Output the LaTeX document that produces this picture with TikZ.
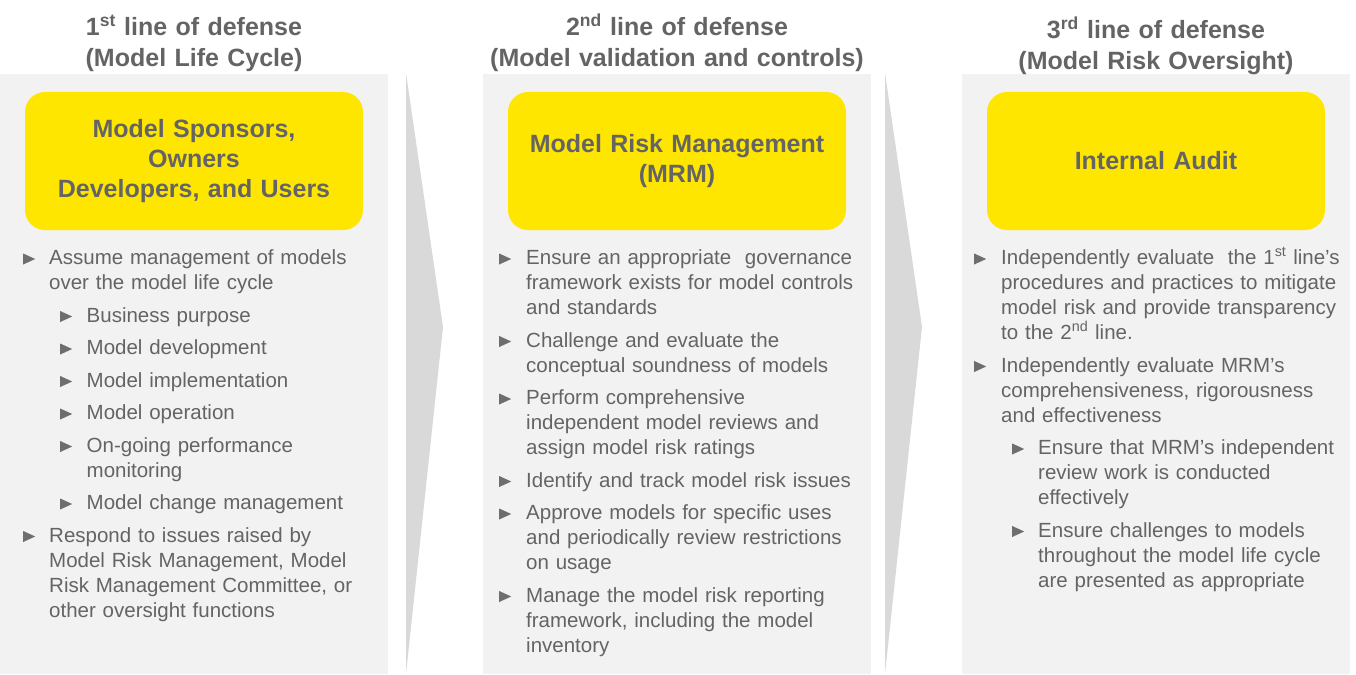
\documentclass[tikz,border=0pt]{standalone}
\usepackage{fontspec}
\setmainfont{Liberation Sans}
\definecolor{eyyellow}{RGB}{255,230,0}
\definecolor{panelgray}{RGB}{242,242,242}
\definecolor{chevgray}{RGB}{217,217,217}
\definecolor{txtgray}{RGB}{100,100,100}
\definecolor{bulgray}{RGB}{110,110,110}
\newcommand{\tri}{\tikz[baseline=0pt]\fill[bulgray] (0pt,0pt) -- (12pt,5.5pt) -- (0pt,11pt) -- cycle;}
\newenvironment{bul}[2]{\begin{list}{\tri}{\leftmargin=#1\labelwidth=#2\labelsep=0pt\itemsep=7.5pt\parsep=0pt\topsep=7.5pt\partopsep=0pt\itemindent=0pt\listparindent=0pt\def\makelabel##1{##1\hfil}}}{\end{list}}

\begin{document}
\begin{tikzpicture}[x=1pt,y=-1pt,line cap=round,line join=round,
	hdr/.style={text=txtgray,font=\fontsize{25}{31}\selectfont\bfseries,text width=400pt,align=center,anchor=base,inner sep=0pt},
	ybox/.style={fill=eyyellow,rounded corners=20pt,minimum width=338pt,minimum height=138pt,text width=330pt,inner sep=0pt,text=txtgray,font=\fontsize{25}{30}\selectfont\bfseries,align=center},
	blist/.style={text=txtgray,font=\fontsize{20.5}{25}\selectfont,text width=380pt,align=left,anchor=base west,inner sep=0pt}]
	\useasboundingbox (0,0) rectangle (1356,674);
	\fill[panelgray] (0,74) rectangle (388,674);
	\fill[panelgray] (483,74) rectangle (871,674);
	\fill[panelgray] (962,74) rectangle (1350,674);
	\fill[chevgray] (406,73) -- (443,327) -- (406,674) -- cycle;
	\fill[chevgray] (885,73) -- (922,327) -- (885,674) -- cycle;
	\node[hdr] (h1) at (194,36) {1\textsuperscript{st} line of defense\\(Model Life Cycle)};
	\node[hdr] (h2) at (677,36) {2\textsuperscript{nd} line of defense\\(Model validation and controls)};
	\node[hdr] (h3) at (1156,39) {3\textsuperscript{rd} line of defense\\(Model Risk Oversight)};
	\node[ybox] (b1) at (194,161) {Model Sponsors,\\Owners\\Developers, and Users};
	\node[ybox] (b2) at (677,161) {Model Risk Management\\(MRM)};
	\node[ybox] (b3) at (1156,161) {Internal Audit};
	\node[blist] (l1) at (23,232) {\begin{bul}{26pt}{26pt}
		\item Assume management of models\\over the model life cycle
		\begin{bul}{37.5pt}{26.5pt}
			\item Business purpose
			\item Model development
			\item Model implementation
			\item Model operation
			\item On-going performance\\monitoring
			\item Model change management
		\end{bul}
		\item Respond to issues raised by\\Model Risk Management, Model\\Risk Management Committee, or\\other oversight functions
	\end{bul}};
	\node[blist] (l2) at (499,232) {\begin{bul}{27pt}{27pt}
		\item Ensure an appropriate\ \ governance\\framework exists for model controls\\and standards
		\item Challenge and evaluate the\\conceptual soundness of models
		\item Perform comprehensive\\independent model reviews and\\assign model risk ratings
		\item Identify and track model risk issues
		\item Approve models for specific uses\\and periodically review restrictions\\on usage
		\item Manage the model risk reporting\\framework, including the model\\inventory
	\end{bul}};
	\node[blist] (l3) at (974,232) {\begin{bul}{27pt}{27pt}
		\item Independently evaluate\ \ the 1\textsuperscript{st} line’s\\procedures and practices to mitigate\\model risk and provide transparency\\to the 2\textsuperscript{nd} line.
		\item Independently evaluate MRM’s\\comprehensiveness, rigorousness\\and effectiveness
		\begin{bul}{37pt}{26pt}
			\item Ensure that MRM’s independent\\review work is conducted\\effectively
			\item Ensure challenges to models\\throughout the model life cycle\\are presented as appropriate
		\end{bul}
	\end{bul}};
\end{tikzpicture}
\end{document}
